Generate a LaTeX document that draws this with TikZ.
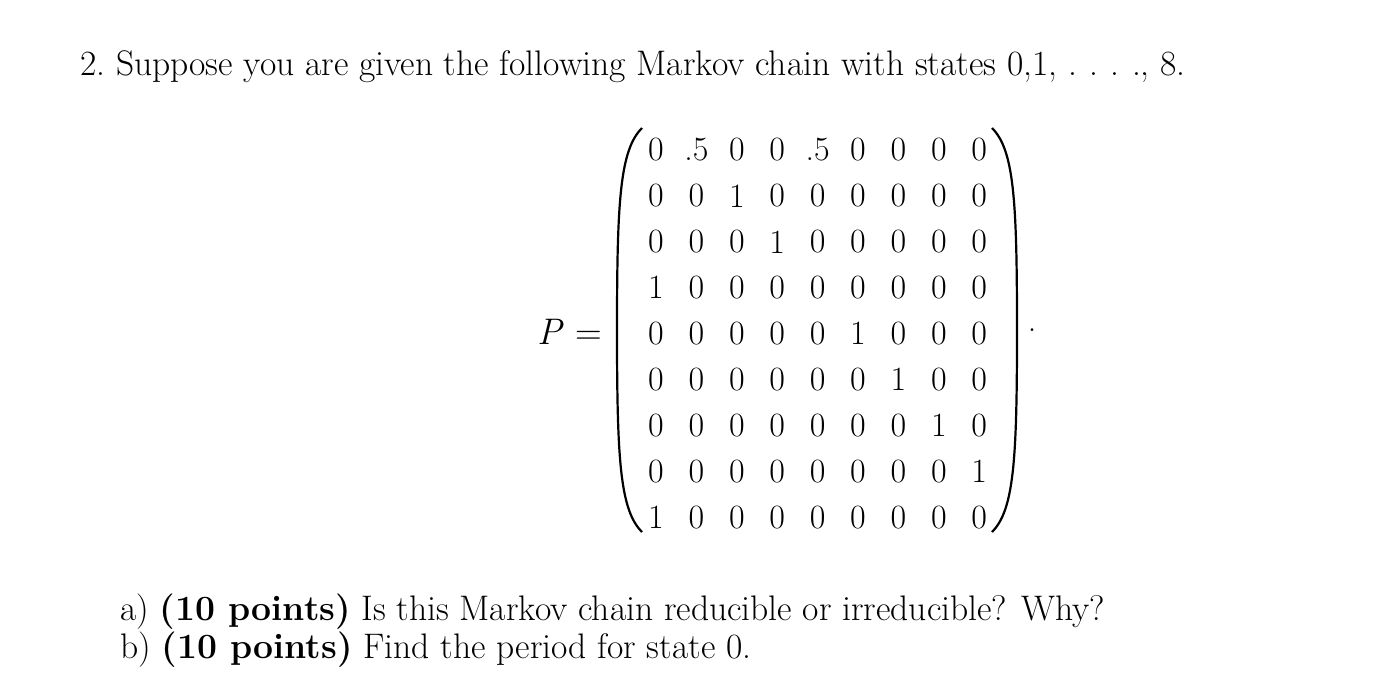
\documentclass[tikz,border=0pt]{standalone}
\begin{document}
\begin{tikzpicture}[x=1pt,y=-1pt,
  txt/.style={anchor=base west,inner sep=0pt,font=\fontsize{35.5}{42}\selectfont},
  ent/.style={inner sep=0pt,font=\fontsize{34}{40}\selectfont}]
\useasboundingbox (0,0) rectangle (1392,697);
\node[txt] (q) at (80,75) {2.\ Suppose you are given the following Markov chain with states 0,1, .\hspace{0.35em}.\hspace{0.35em}.\hspace{0.35em}., 8.};
\node[txt] (pa) at (120,620) {a) \textbf{(10 points)} Is this Markov chain reducible or irreducible? Why?};
\node[txt] (pb) at (120,658) {b) \textbf{(10 points)} Find the period for state 0.};
\node[ent,font=\fontsize{37}{42}\selectfont] (P) at (570,332) {\textit{P} =};
\def\rows{{0,.5,0,0,.5,0,0,0,0},{0,0,1,0,0,0,0,0,0},{0,0,0,1,0,0,0,0,0},{1,0,0,0,0,0,0,0,0},{0,0,0,0,0,1,0,0,0},{0,0,0,0,0,0,1,0,0},{0,0,0,0,0,0,0,1,0},{0,0,0,0,0,0,0,0,1},{1,0,0,0,0,0,0,0,0}}
\foreach \r [count=\i from 0] in \rows {
  \foreach \v [count=\j from 0] in \r {
    \node[ent] (m\i\j) at (656+40.4*\j,150+45.9*\i) {\v};
  }
}
\draw[line width=2.2pt] (642,128) .. controls (620,150) and (617,200) .. (617,330) .. controls (617,460) and (620,510) .. (642,532);
\draw[line width=2.2pt] (992,128) .. controls (1014,150) and (1017,200) .. (1017,330) .. controls (1017,460) and (1014,510) .. (992,532);
\node[ent] (dot) at (1032,330) {.};
\end{tikzpicture}
\end{document}
